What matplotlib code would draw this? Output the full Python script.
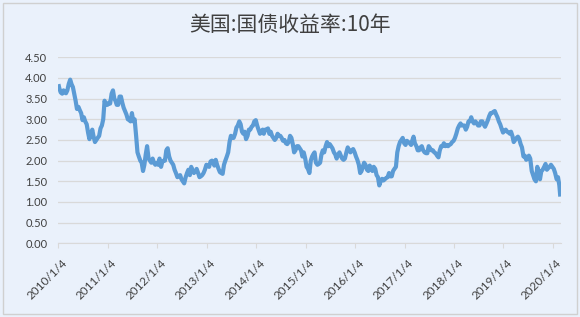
import matplotlib
matplotlib.use("Agg")
import matplotlib.pyplot as plt
import matplotlib.transforms as mtransforms
from matplotlib.patches import Rectangle
import pandas as pd

title = "美国:国债收益率:10年"

# yields sampled on the 1st/11th/21st of each month (approx.)
y2010 = [3.85, 3.75, 3.65, 3.62, 3.70, 3.65, 3.63, 3.70, 3.85, 3.96, 3.85, 3.78,
         3.62, 3.45, 3.25, 3.30, 3.22, 3.15, 2.98, 3.05, 2.95, 2.88, 2.68, 2.52,
         2.65, 2.75, 2.58, 2.45, 2.50, 2.55, 2.60, 2.78, 2.85, 3.00, 3.45, 3.35]
y2011 = [3.35, 3.40, 3.38, 3.62, 3.70, 3.50, 3.45, 3.35, 3.35, 3.55, 3.55, 3.40,
         3.28, 3.20, 3.12, 3.00, 2.98, 2.95, 3.15, 2.95, 3.00, 2.60, 2.20, 2.10,
         2.00, 1.95, 1.75, 1.90, 2.15, 2.35, 2.05, 2.00, 1.95, 2.05, 1.95, 1.90]
y2012 = [1.95, 1.90, 2.05, 1.85, 1.98, 2.00, 2.00, 2.25, 2.30, 2.10, 2.00, 1.95,
         1.90, 1.78, 1.70, 1.60, 1.62, 1.65, 1.55, 1.50, 1.45, 1.60, 1.70, 1.78,
         1.65, 1.85, 1.75, 1.70, 1.75, 1.80, 1.70, 1.60, 1.62, 1.65, 1.70, 1.78]
y2013 = [1.90, 1.88, 1.85, 1.98, 2.00, 1.95, 1.88, 2.02, 1.90, 1.80, 1.72, 1.70,
         1.68, 1.90, 2.00, 2.10, 2.20, 2.45, 2.60, 2.55, 2.55, 2.65, 2.80, 2.85,
         2.95, 2.88, 2.70, 2.65, 2.70, 2.52, 2.60, 2.75, 2.75, 2.82, 2.85, 2.95]
y2014 = [2.98, 2.85, 2.75, 2.65, 2.72, 2.75, 2.65, 2.75, 2.75, 2.78, 2.65, 2.70,
         2.60, 2.55, 2.50, 2.55, 2.65, 2.60, 2.60, 2.55, 2.48, 2.50, 2.42, 2.40,
         2.45, 2.60, 2.55, 2.40, 2.20, 2.25, 2.35, 2.35, 2.30, 2.25, 2.10, 2.20]
y2015 = [2.05, 1.85, 1.80, 1.70, 2.00, 2.10, 2.15, 2.20, 1.95, 1.90, 1.92, 1.95,
         2.15, 2.25, 2.20, 2.35, 2.45, 2.35, 2.40, 2.35, 2.30, 2.20, 2.15, 2.05,
         2.15, 2.20, 2.12, 2.05, 2.02, 2.05, 2.20, 2.32, 2.25, 2.20, 2.25, 2.28]
y2016 = [2.20, 2.10, 2.02, 1.90, 1.70, 1.75, 1.85, 1.95, 1.90, 1.78, 1.75, 1.88,
         1.82, 1.75, 1.85, 1.80, 1.65, 1.60, 1.40, 1.50, 1.56, 1.52, 1.55, 1.58,
         1.60, 1.70, 1.62, 1.62, 1.75, 1.80, 1.85, 2.20, 2.35, 2.45, 2.50, 2.55]
y2017 = [2.42, 2.38, 2.48, 2.45, 2.42, 2.38, 2.48, 2.58, 2.42, 2.35, 2.25, 2.25,
         2.32, 2.35, 2.25, 2.20, 2.18, 2.18, 2.35, 2.30, 2.25, 2.25, 2.20, 2.18,
         2.12, 2.08, 2.25, 2.35, 2.35, 2.42, 2.35, 2.38, 2.35, 2.38, 2.40, 2.45]
y2018 = [2.48, 2.55, 2.65, 2.78, 2.85, 2.90, 2.85, 2.85, 2.85, 2.75, 2.82, 2.95,
         2.95, 3.05, 2.95, 2.90, 2.95, 2.90, 2.85, 2.85, 2.95, 2.95, 2.88, 2.82,
         2.90, 2.98, 3.08, 3.15, 3.15, 3.18, 3.20, 3.12, 3.05, 2.95, 2.88, 2.78]
y2019 = [2.68, 2.72, 2.75, 2.70, 2.68, 2.65, 2.70, 2.60, 2.45, 2.50, 2.55, 2.58,
         2.52, 2.40, 2.32, 2.10, 2.12, 2.02, 2.05, 2.12, 2.05, 1.75, 1.65, 1.55,
         1.50, 1.85, 1.72, 1.55, 1.75, 1.78, 1.85, 1.92, 1.78, 1.82, 1.85, 1.90]
y2020 = [1.85, 1.80, 1.70, 1.55, 1.60, 1.40, 1.13]

tick_years = list(range(2010, 2021))
tick_labels = [f"{y}/1/4" for y in tick_years]
yticks = [0.0, 0.5, 1.0, 1.5, 2.0, 2.5, 3.0, 3.5, 4.0, 4.5]

values = y2010 + y2011 + y2012 + y2013 + y2014 + y2015 + y2016 + y2017 + y2018 + y2019 + y2020
months = pd.date_range("2010-01-01", "2020-02-01", freq="MS")
dates = []
for m in months:
    for d in (1, 11, 21):
        dates.append(m + pd.Timedelta(days=d - 1))
dates[0] = pd.Timestamp("2010-01-04")
dates.append(pd.Timestamp("2020-02-28"))
dates = dates[:len(values)]

bg = "#EAF1FB"
fig = plt.figure(figsize=(5.8, 3.17), dpi=100, facecolor=bg)
fig.patches.append(Rectangle((0.006, 0.01), 0.988, 0.98, transform=fig.transFigure,
                             fill=False, edgecolor="#D0D0D0", linewidth=1.0))
ax = fig.add_axes([0.1007, 0.2325, 0.8665, 0.5867])
ax.set_facecolor(bg)

ax.plot(dates, values, color="#5B9BD5", linewidth=3.0, solid_joinstyle="round",
        solid_capstyle="butt")

ax.set_ylim(0, 4.5)
ax.set_yticks(yticks)
ax.set_yticklabels([f"{v:.2f}" for v in yticks], fontsize=8, color="#404040", family="Lato")
ax.yaxis.grid(True, color="#D9D9D9", linewidth=0.9)
ax.set_axisbelow(True)
ax.tick_params(axis="y", length=0, pad=8)

ax.set_xlim(pd.Timestamp("2010-01-04"), pd.Timestamp("2020-03-04"))
ax.set_xticks([pd.Timestamp(f"{y}-01-04") for y in tick_years])
ax.set_xticklabels(tick_labels, rotation=45, ha="right", va="center",
                   rotation_mode="anchor", fontsize=8.5, color="#404040", family="Lato")
ax.tick_params(axis="x", length=3.6, color="#D9D9D9", pad=9.5)
shift = mtransforms.ScaledTranslation(0.07, 0, fig.dpi_scale_trans)
for lab in ax.get_xticklabels():
    lab.set_transform(lab.get_transform() + shift)

for s in ("left", "right", "top"):
    ax.spines[s].set_visible(False)
ax.spines["bottom"].set_color("#D9D9D9")

fig.text(0.5, 0.922, title, ha="center", va="center", fontsize=15, color="#404040",
         family=["Noto Sans CJK SC", "DejaVu Sans"], fontweight="light")

fig.savefig("out.png", dpi=100, facecolor=bg)
